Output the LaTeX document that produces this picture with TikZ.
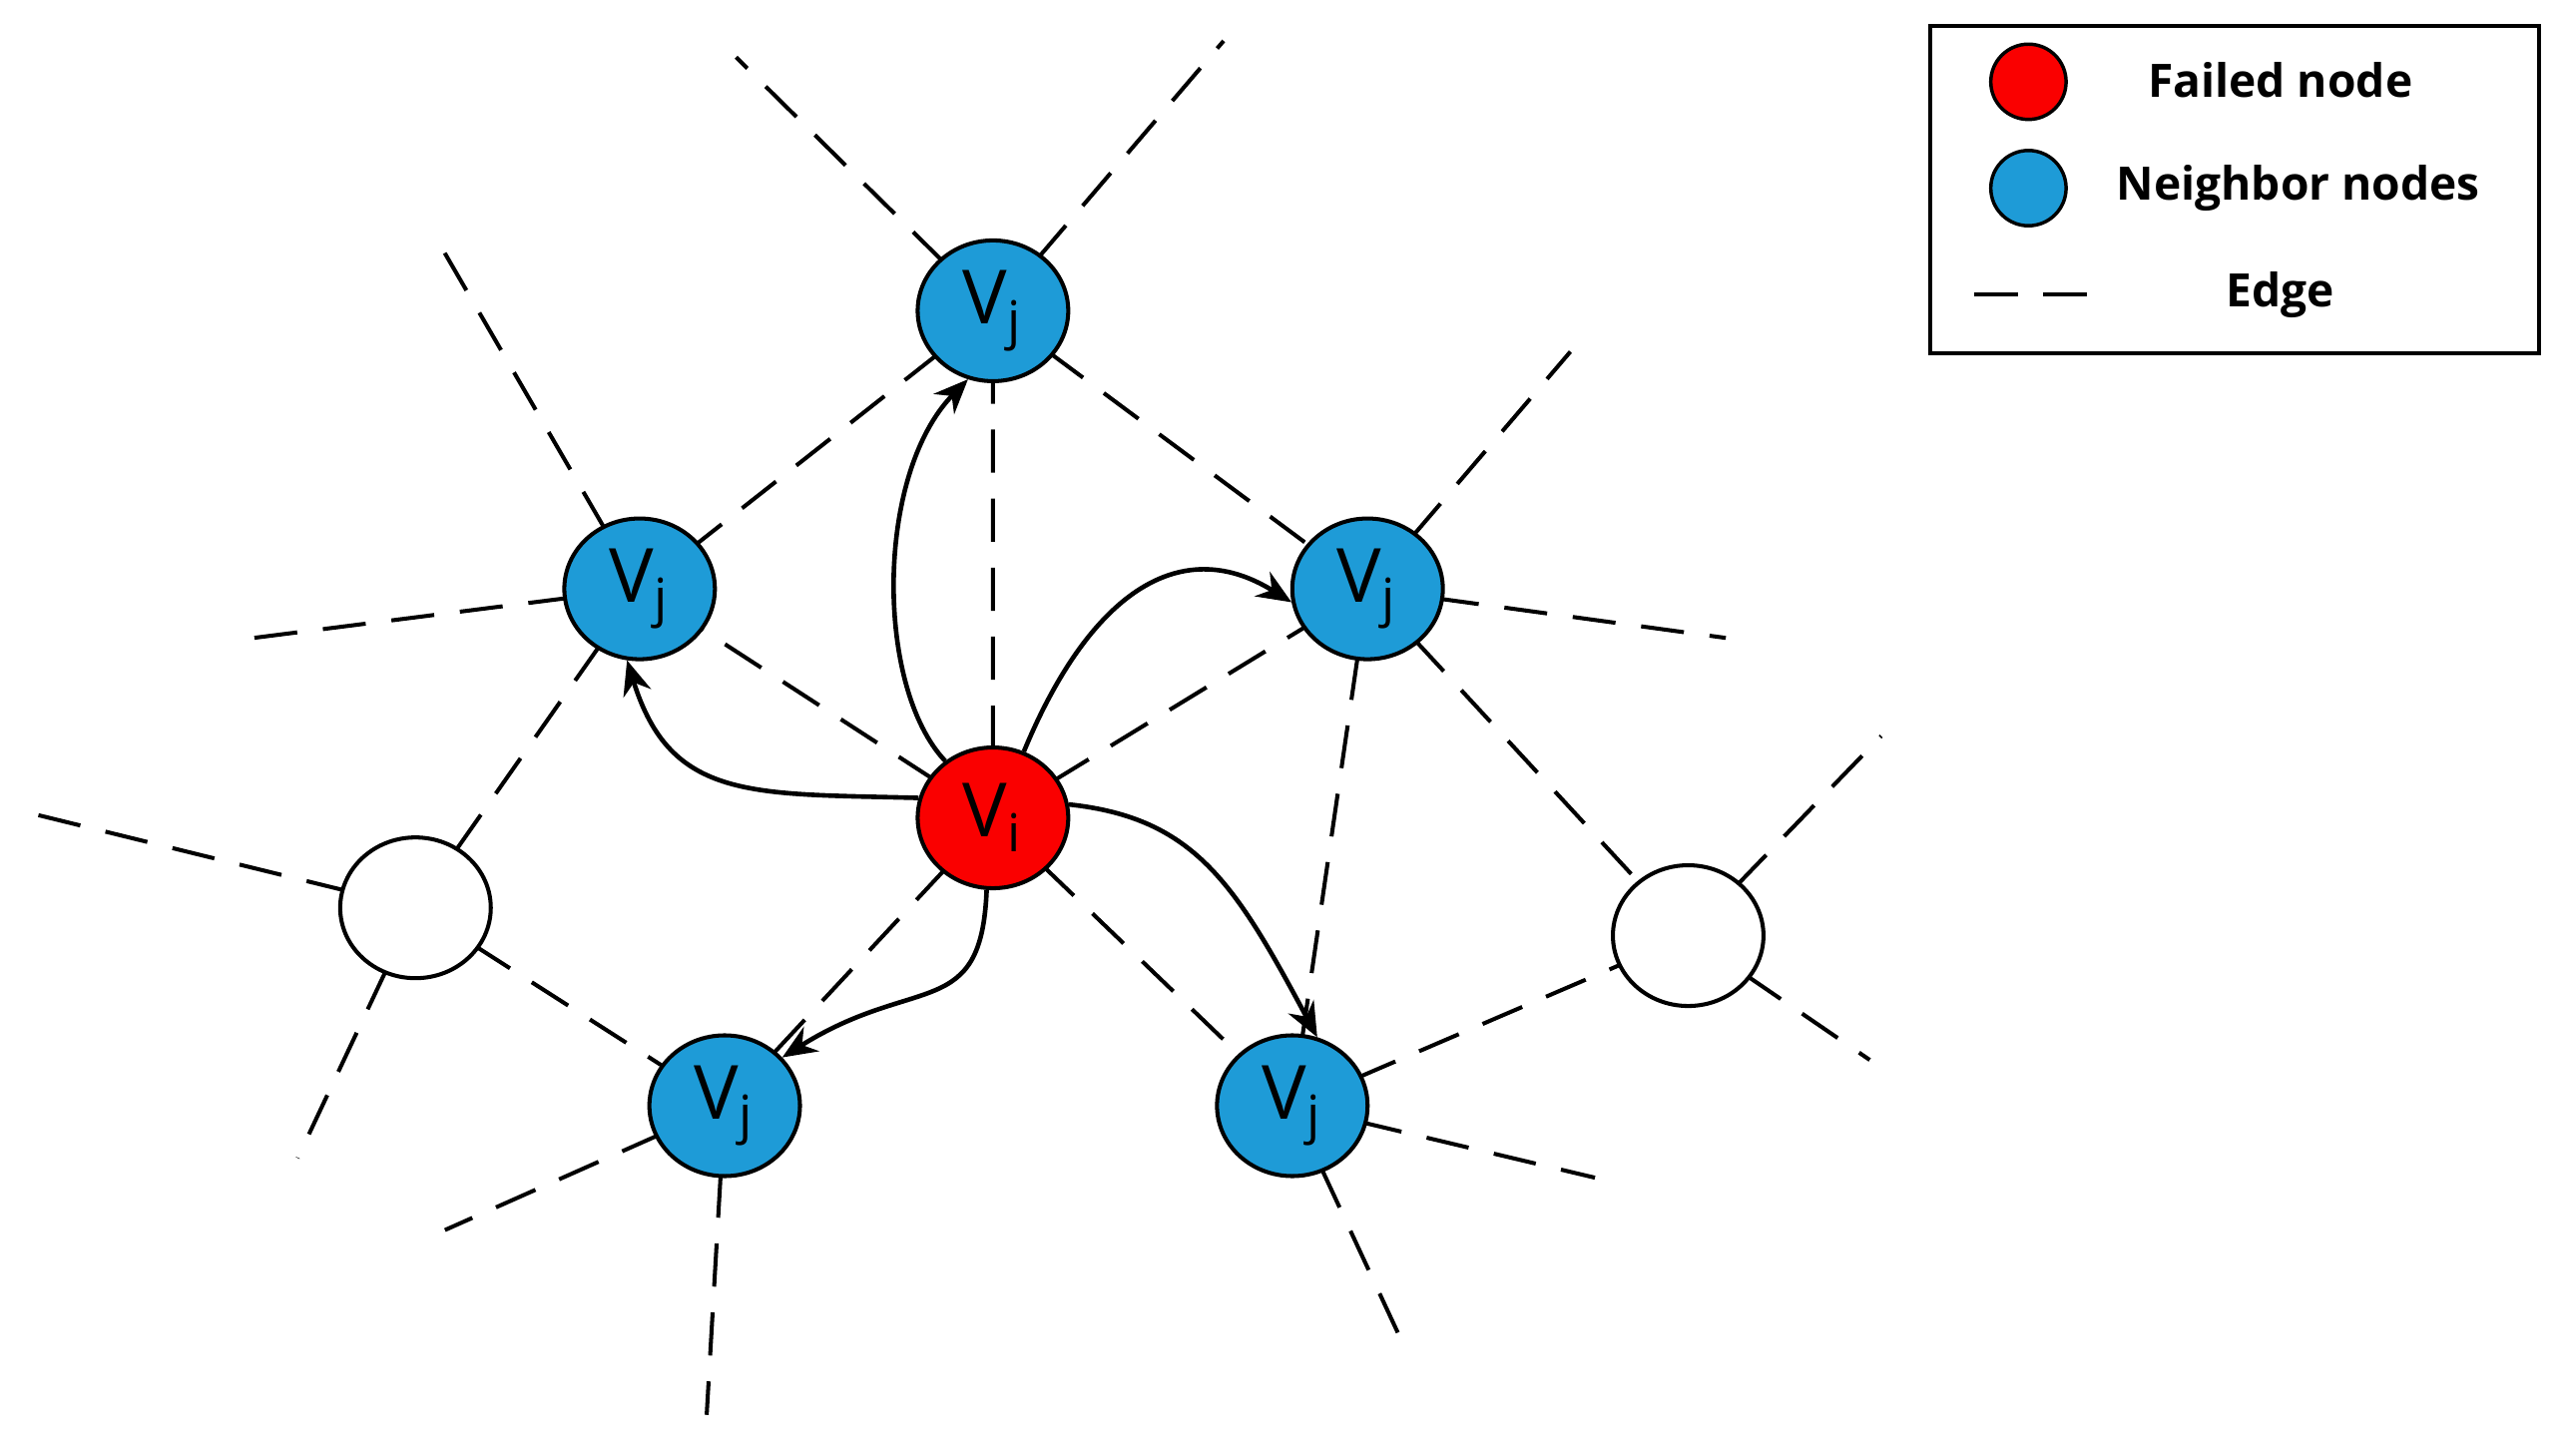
\documentclass[tikz,border=0pt]{standalone}
\usepackage{fontspec}
\setmainfont{Open Sans}
\usetikzlibrary{arrows.meta,shapes.geometric}
\definecolor{nblue}{RGB}{30,155,215}
\definecolor{nred}{RGB}{250,0,0}
\begin{document}
\begin{tikzpicture}[x=0.01cm,y=-0.01cm,
  nd/.style={ellipse,draw=black,line width=0.7pt,minimum width=0.92cm,minimum height=0.86cm,inner sep=0pt,font=\fontsize{13}{13}\selectfont},
  bl/.style={nd,fill=nblue},
  rd/.style={nd,fill=nred},
  wh/.style={nd,fill=white},
  ed/.style={line width=0.7pt,dash pattern=on 7.5pt off 4.5pt},
  ar/.style={line width=0.8pt,-{Stealth[length=6pt,width=5pt]}},
  lg/.style={font=\bfseries\fontsize{8}{8}\selectfont}]
\useasboundingbox (0,0) rectangle (1568,890);
% coordinates
\coordinate (a1) at (450,35); \coordinate (a2) at (748,25);
\coordinate (b1) at (268,148); \coordinate (b2) at (155,390);
\coordinate (c1) at (960,215); \coordinate (c2) at (1055,390);
\coordinate (d1) at (22,498); \coordinate (d2) at (182,708);
\coordinate (e1) at (272,752); \coordinate (e2) at (432,865);
\coordinate (f1) at (975,720); \coordinate (f2) at (856,818);
\coordinate (g1) at (1150,450); \coordinate (g2) at (1143,648);
% node positions
\coordinate (pVi) at (607,500);
\coordinate (pT) at (607,190);
\coordinate (pL) at (391,360);
\coordinate (pR) at (836,360);
\coordinate (pBL) at (443,676);
\coordinate (pBR) at (790,676);
\coordinate (pWL) at (254,555);
\coordinate (pWR) at (1032,572);
% edges
\draw[ed] (pVi)--(pT) (pVi)--(pL) (pVi)--(pR) (pVi)--(pBL) (pVi)--(pBR)
 (pT)--(pL) (pT)--(pR) (pT)--(a1) (pT)--(a2)
 (pL)--(b1) (pL)--(b2) (pL)--(pWL)
 (pR)--(c1) (pR)--(c2) (pR)--(pBR) (pR)--(pWR)
 (pWL)--(d1) (pWL)--(d2) (pWL)--(pBL)
 (pBL)--(e1) (pBL)--(e2)
 (pBR)--(pWR) (pBR)--(f1) (pBR)--(f2)
 (pWR)--(g1) (pWR)--(g2);
% nodes
\node[rd] (Vi) at (pVi) {V\textsubscript{i}};
\node[bl] (T) at (pT) {V\textsubscript{j}};
\node[bl] (L) at (pL) {V\textsubscript{j}};
\node[bl] (R) at (pR) {V\textsubscript{j}};
\node[bl] (BL) at (pBL) {V\textsubscript{j}};
\node[bl] (BR) at (pBR) {V\textsubscript{j}};
\node[wh] (WL) at (pWL) {};
\node[wh] (WR) at (pWR) {};
% arrows
\draw[ar] (Vi.130) .. controls (535,420) and (535,290) .. (T.250);
\draw[ar] (Vi.65) .. controls (665,365) and (720,325) .. (R.190);
\draw[ar] (Vi.165) .. controls (460,485) and (410,490) .. (L.260);
\draw[ar] (Vi.10) .. controls (730,500) and (755,540) .. (BR.70);
\draw[ar] (Vi.265) .. controls (600,625) and (560,595) .. (BL.40);
% legend
\node[draw=black,line width=0.8pt,minimum width=3.72cm,minimum height=2cm,inner sep=0pt] (leg) at (1366,116) {};
\node[circle,draw=black,line width=0.6pt,fill=nred,minimum width=0.46cm,inner sep=0pt] (l1) at (1240,50) {};
\node[circle,draw=black,line width=0.6pt,fill=nblue,minimum width=0.46cm,inner sep=0pt] (l2) at (1240,115) {};
\coordinate (l3a) at (1207,180); \coordinate (l3b) at (1276,180);
\draw[ed] (l3a)--(l3b);
\node[lg] (t1) at (1394,49) {Failed node};
\node[lg] (t2) at (1405,115) {Neighbor nodes};
\node[lg] (t3) at (1394,180) {Edge};
\end{tikzpicture}
\end{document}
